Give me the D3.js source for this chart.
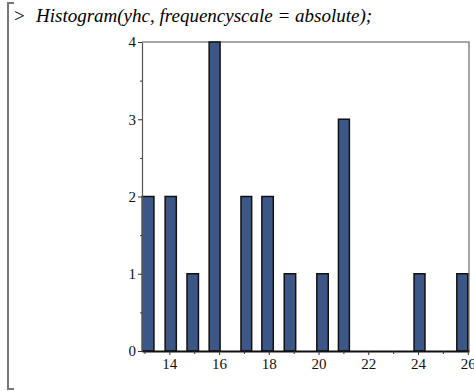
<!DOCTYPE html>
<html>
<head>
<meta charset="utf-8">
<script src="https://cdn.jsdelivr.net/npm/d3@7/dist/d3.min.js"></script>
<style>
  body { margin: 0; background: #fff; }
  svg { display: block; }
</style>
</head>
<body>
<div id="graph"></div>
<script>
// histogram bins (yhc values)
const binLo  = [12.91, 13.83, 14.71, 15.60, 16.88, 17.72, 18.62, 19.93, 20.80, 23.84, 25.56];
const binHi  = [13.38, 14.28, 15.17, 16.04, 17.31, 18.18, 19.08, 20.39, 21.24, 24.28, 26.00];
const counts = [2, 2, 1, 4, 2, 2, 1, 1, 3, 1, 1];
const xTicks = [14, 16, 18, 20, 22, 24, 26];
const yTicks = [0, 1, 2, 3, 4];

const w = 474;
const h = 391;
const plotL = 142, plotR = 469, plotT = 42, plotB = 351;

const svg = d3.select("#graph")
              .append("svg")
              .attr("width", w)
              .attr("height", h);

// worksheet bracket
svg.append("path")
   .attr("d", "M14,3 H8 V389 H14")
   .attr("fill", "none")
   .attr("stroke", "#777")
   .attr("stroke-width", 2);

// command line
const cmd = svg.append("text")
   .attr("x", 14)
   .attr("y", 22)
   .attr("font-family", "Liberation Serif, Times New Roman, serif")
   .attr("font-size", 19);
cmd.append("tspan").text(">");
cmd.append("tspan")
   .attr("x", 36)
   .attr("font-style", "italic")
   .text("Histogram(yhc, frequencyscale = absolute);");

const xScale = d3.scaleLinear()
                 .domain([12.9, 26.05])
                 .range([plotL, plotR]);
const yScale = d3.scaleLinear()
                 .domain([0, 4])
                 .range([plotB, plotT]);

// frame (top and right)
svg.append("path")
   .attr("d", `M${plotL},${plotT} H${plotR} V${plotB}`)
   .attr("fill", "none")
   .attr("stroke", "#888")
   .attr("stroke-width", 1.5);

// bars
svg.selectAll("rect.bar")
   .data(counts)
   .enter()
   .append("rect")
   .attr("class", "bar")
   .attr("x", (d, i) => xScale(binLo[i]))
   .attr("y", (d) => yScale(d))
   .attr("width", (d, i) => xScale(binHi[i]) - xScale(binLo[i]))
   .attr("height", (d) => yScale(0) - yScale(d))
   .attr("fill", "#3c5787")
   .attr("stroke", "#111")
   .attr("stroke-width", 1.5);

const font = "Liberation Serif, Times New Roman, serif";

// x axis: major ticks with labels, minor ticks at odd values
const xAxis = d3.axisBottom(xScale)
                .tickValues(xTicks)
                .tickSize(4)
                .tickSizeOuter(0)
                .tickPadding(3);
const gx = svg.append("g")
   .attr("id", "x-axis")
   .attr("transform", `translate(0, ${plotB})`)
   .call(xAxis);
gx.select(".domain").attr("stroke", "#111").attr("stroke-width", 2);
gx.selectAll("text").attr("font-family", font).attr("font-size", 15).attr("fill", "#111");
gx.selectAll(".tick line").attr("stroke", "#333");
svg.append("g")
   .attr("transform", `translate(0, ${plotB})`)
   .call(d3.axisBottom(xScale).tickValues([13, 15, 17, 19, 21, 23, 25]).tickSize(3).tickFormat(""))
   .call((g) => g.select(".domain").remove())
   .selectAll("line").attr("stroke", "#333");

// y axis
const yAxis = d3.axisLeft(yScale)
                .tickValues(yTicks)
                .tickSize(4)
                .tickSizeOuter(0)
                .tickPadding(2)
                .tickFormat(d3.format("d"));
const gy = svg.append("g")
   .attr("id", "y-axis")
   .attr("transform", `translate(${plotL}, 0)`)
   .call(yAxis);
gy.select(".domain").attr("stroke", "#555").attr("stroke-width", 1.2);
gy.selectAll("text").attr("font-family", font).attr("font-size", 15).attr("fill", "#111");
gy.selectAll(".tick line").attr("stroke", "#333");
svg.append("g")
   .attr("transform", `translate(${plotL}, 0)`)
   .call(d3.axisLeft(yScale).tickValues([0.5, 1.5, 2.5, 3.5]).tickSize(2).tickFormat(""))
   .call((g) => g.select(".domain").remove())
   .selectAll("line").attr("stroke", "#333");
</script>
</body>
</html>
